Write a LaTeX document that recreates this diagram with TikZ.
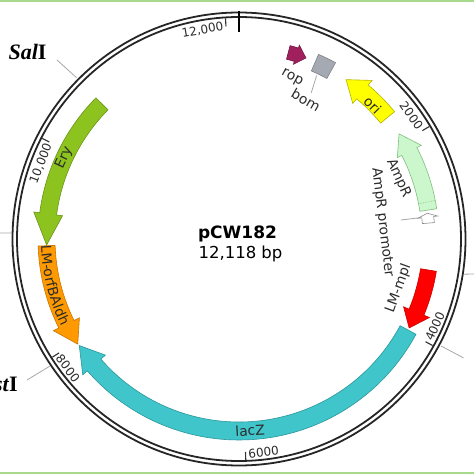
\documentclass[tikz,border=0pt]{standalone}
\usepackage{fontspec}
\setmainfont{DejaVu Sans}
\newfontfamily\sitefont{Liberation Serif}
\usetikzlibrary{decorations.text}
\definecolor{bordergreen}{HTML}{A9D98B}
\definecolor{ringc}{HTML}{262626}
\definecolor{tickc}{HTML}{303030}
\definecolor{leadc}{HTML}{A8A8A8}
\definecolor{txtc}{HTML}{2B2B2B}
\definecolor{eryc}{HTML}{8DC31F}
\definecolor{eryd}{HTML}{6B9418}
\definecolor{orfc}{HTML}{FF9900}
\definecolor{orfd}{HTML}{C77700}
\definecolor{lacc}{HTML}{40C5CB}
\definecolor{lacd}{HTML}{2A979C}
\definecolor{mplc}{HTML}{FF0000}
\definecolor{mpld}{HTML}{CC0000}
\definecolor{oric}{HTML}{FFFF00}
\definecolor{orid}{HTML}{B3B300}
\definecolor{ampc}{HTML}{CCF7CC}
\definecolor{ampd}{HTML}{7FBF7F}
\definecolor{promd}{HTML}{8C8C8C}
\definecolor{ropc}{HTML}{A0205E}
\definecolor{ropd}{HTML}{761543}
\definecolor{bomc}{HTML}{A5A9B1}
\definecolor{bomd}{HTML}{7E828A}
\newcommand{\labfont}{\fontsize{13.8}{16}\selectfont}
\newcommand{\tickfont}{\fontsize{12}{14}\selectfont}
% #1 fill #2 draw #3 tail angle #4 head base angle #5 tip angle #6 r in #7 r out #8 head extension
\newcommand{\plasarrow}[8]{%
  \pgfmathsetmacro\plT{90-(#3)}%
  \pgfmathsetmacro\plH{90-(#4)}%
  \pgfmathsetmacro\plP{90-(#5)}%
  \pgfmathsetmacro\plM{((#6)+(#7))/2}%
  \pgfmathsetmacro\plO{(#7)+(#8)}%
  \pgfmathsetmacro\plI{(#6)-(#8)}%
  \path[fill=#1, draw=#2, line width=0.6pt, line join=miter]
    (\plT:#7pt) arc[start angle=\plT, end angle=\plH, radius=#7pt]
    -- (\plH:\plO pt) -- (\plP:\plM pt) -- (\plH:\plI pt) -- (\plH:#6pt)
    arc[start angle=\plH, end angle=\plT, radius=#6pt] -- cycle;%
}
\begin{document}
\begin{tikzpicture}[
  ring/.style={draw=ringc, line width=1.8pt},
  tickline/.style={draw=tickc, line width=1.1pt},
  ticklab/.style={font=\tickfont, text=txtc, inner sep=0pt},
  featlab/.style={font=\labfont, text=txtc, inner sep=0pt},
  sitelab/.style={font=\sitefont\bfseries\fontsize{22}{24}\selectfont, text=black, inner sep=0pt},
  leader/.style={draw=leadc, line width=0.8pt}
]
\useasboundingbox (-239pt,-235pt) rectangle (235pt,239pt);
\fill[white] (-239pt,-235pt) rectangle (235pt,239pt);
\fill[bordergreen] (-239pt,236.7pt) rectangle (235pt,239pt);
\fill[bordergreen] (-239pt,-233pt) rectangle (235pt,-235pt);

% backbone ring
\draw[ring] (0pt,0pt) circle[radius=226.5pt];
\draw[ring] (0pt,0pt) circle[radius=222pt];

% ticks
\draw[line width=2.4pt, black] (90:227.5pt) -- (90:207pt);
\draw[tickline] ({90+3.506}:221pt) -- ({90+3.506}:213pt);
\draw[tickline] ({90-59.416}:221pt) -- ({90-59.416}:213pt);
\draw[tickline] ({90-118.831}:221pt) -- ({90-118.831}:213pt);
\draw[tickline] ({90-178.247}:221pt) -- ({90-178.247}:213pt);
\draw[tickline] ({90-237.663}:221pt) -- ({90-237.663}:213pt);
\draw[tickline] ({90-297.078}:221pt) -- ({90-297.078}:213pt);
\node[ticklab, rotate=9.9] (t12000) at ({90+9.9}:212pt) {12,000};
\node[ticklab, rotate=-54.4] (t2000) at ({90-54.4}:212pt) {2000};
\node[ticklab, rotate=66] (t4000) at ({90-114}:214.5pt) {4000};
\node[ticklab, rotate=6.6] (t6000) at ({90-173.4}:214.5pt) {6000};
\node[ticklab, rotate=-52.9] (t8000) at ({90-232.9}:214.5pt) {8000};
\node[ticklab, rotate=69.1] (t10000) at ({90-290.9}:212pt) {10,000};

% features
\plasarrow{eryc}{eryd}{314.6}{277.5}{268.2}{184}{201}{6}
\plasarrow{orfc}{orfd}{268}{243.7}{236.9}{184}{201}{6}
\plasarrow{lacc}{lacd}{118.3}{229}{236.3}{183}{201}{6}
\plasarrow{mplc}{mpld}{99.3}{112.4}{117.6}{184}{200}{6}
\plasarrow{oric}{orid}{50.7}{40}{33.9}{183}{201}{6}
\plasarrow{ampc}{ampd}{81.3}{62.8}{56.7}{183}{200}{5}
\draw[densely dotted, ampd, line width=0.6pt] ({90-78.9}:183pt) -- ({90-78.9}:200pt);
\plasarrow{white}{promd}{85.2}{83.4}{82.2}{184}{196}{4}
\plasarrow{ropc}{ropd}{14.8}{17.3}{20.3}{186}{200}{3}
\path[fill=bomc, draw=bomd, line width=0.6pt]
  ({90-23.3}:201pt) arc[start angle={90-23.3}, end angle={90-28.7}, radius=201pt]
  -- ({90-28.7}:183pt) arc[start angle={90-28.7}, end angle={90-23.3}, radius=183pt] -- cycle;

% feature labels
\node[featlab, rotate=65] (erylab) at ({90-295}:193pt) {Ery};
\path[decorate, decoration={text along path, text={|\labfont\color{txtc}|LM-orfBAldh}, text align=center}]
  (-186:198pt) arc[start angle=-186, end angle=-146, radius=198pt];
\node[featlab, rotate=3.3] (laclab) at ({90-176.7}:192pt) {lacZ};
\node[featlab, rotate=-45] (orilab) at ({90-45}:189pt) {ori};
\node[featlab, rotate=70] (mpllab) at ({90-107.2}:167pt) {LM-mpl};
\node[featlab, rotate=-66] (amplab) at ({90-69.2}:170.6pt) {AmpR};
\node[featlab, rotate=-83.2] (promlab) at ({90-83.4}:144.4pt) {AmpR promoter};
\node[featlab, rotate=-28] (roplab) at (53pt,161pt) {rop};
\node[featlab, rotate=-30] (bomlab) at (67pt,139pt) {bom};

% leader lines
\coordinate (promA) at ({90-83.3}:163pt);
\coordinate (promB) at ({90-83.3}:181pt);
\draw[leader] (promA) -- (promB);
\coordinate (bomA) at ({90-26.3}:163pt);
\coordinate (bomB) at ({90-25.4}:181pt);
\draw[leader] (bomA) -- (bomB);

% restriction sites
\node[sitelab, anchor=base] (sal) at (-211.5pt,179pt) {\textit{Sal}I};
\coordinate (salA) at (-182pt,179pt);
\coordinate (salB) at ({90-314.8}:229pt);
\draw[leader] (salA) -- (salB);
\node[sitelab, anchor=base east] (pst) at (-221pt,-152pt) {\textit{Pst}I};
\coordinate (pstA) at (-212pt,-141pt);
\coordinate (pstB) at ({90-236.1}:228pt);
\draw[leader] (pstA) -- (pstB);
\coordinate (lsA) at (-239pt,6pt);
\coordinate (lsB) at ({90-271.5}:227.5pt);
\draw[leader] (lsA) -- (lsB);
\coordinate (rsA) at ({90-98.9}:227.5pt);
\coordinate (rsB) at (235pt,-35pt);
\draw[leader] (rsA) -- (rsB);
\coordinate (rlA) at ({90-117.9}:228.5pt);
\coordinate (rlB) at ({90-117.9}:254pt);
\draw[leader] (rlA) -- (rlB);

% title
\node[font=\bfseries\fontsize{17}{20}\selectfont, text=black, anchor=base, inner sep=0pt] (title) at (-1.5pt,0.7pt) {pCW182};
\node[font=\fontsize{16.5}{20}\selectfont, text=black, anchor=base, inner sep=0pt] (size) at (1.5pt,-19.3pt) {12,118 bp};
\end{tikzpicture}
\end{document}
